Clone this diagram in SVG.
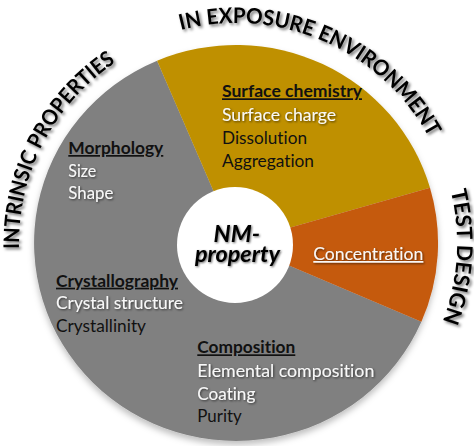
<svg xmlns="http://www.w3.org/2000/svg" width="474" height="446" viewBox="0 0 474 446">
<defs>
  <filter id="arcShadow" x="-10%" y="-10%" width="130%" height="130%">
    <feDropShadow dx="2" dy="2" stdDeviation="1.6" flood-color="#000" flood-opacity="0.55"/>
  </filter>
  <filter id="txtShadow" x="-10%" y="-30%" width="130%" height="160%">
    <feDropShadow dx="1" dy="1" stdDeviation="0.8" flood-color="#000" flood-opacity="0.6"/>
  </filter>
  <filter id="pieShadow" x="-10%" y="-10%" width="120%" height="125%">
    <feDropShadow dx="0" dy="4" stdDeviation="3" flood-color="#000" flood-opacity="0.25"/>
  </filter>
  <path id="arcLeft" d="M19.1,248.7 A217,217 0 0 1 116.2,62.0"/>
  <path id="arcTop" d="M180.9,30.0 A220,220 0 0 1 429.3,138.0"/>
  <path id="arcRight" d="M450.7,190.7 A221,221 0 0 1 442.5,321.8"/>
</defs>
<style>
  text { font-variant-ligatures: none; font-feature-settings: "liga" 0, "clig" 0; }
  .t { font-family: Lato, "Open Sans", sans-serif; font-size: 17px; }
  .h { font-weight: bold; text-decoration: underline; fill: #111; }
  .w { fill: #f8f8f8; filter: url(#txtShadow); }
  .d { fill: #111; }
  .arc { font-family: Lato, "Open Sans", sans-serif; font-weight: bold; font-size: 21.5px; fill: #000; filter: url(#arcShadow); }
  .ctr { font-family: Lato, "Open Sans", sans-serif; font-weight: bold; font-style: italic; font-size: 23px; fill: #000; filter: url(#txtShadow); }
</style>

<g id="pie" filter="url(#pieShadow)">
  <path id="slice-intrinsic" d="M236,243 L421.4,321.7 A202,198 0 1 1 157.1,60.7 Z" fill="#808080"/>
  <path id="slice-exposure" d="M236,243 L157.1,60.7 A202,198 0 0 1 430.0,187.7 Z" fill="#BF9000"/>
  <path id="slice-test" d="M236,243 L430.0,187.7 A202,198 0 0 1 421.4,321.7 Z" fill="#C55A11"/>
</g>

<g id="arc-labels">
  <text class="arc"><textPath href="#arcLeft" textLength="219" lengthAdjust="spacingAndGlyphs">INTRINSIC PROPERTIES</textPath></text>
  <text class="arc"><textPath href="#arcTop" textLength="291" lengthAdjust="spacingAndGlyphs">IN EXPOSURE ENVIRONMENT</textPath></text>
  <text class="arc"><textPath href="#arcRight" textLength="133" lengthAdjust="spacingAndGlyphs">TEST DESIGN</textPath></text>
</g>

<g id="center-node">
  <circle cx="235" cy="245" r="58" fill="#fff"/>
  <text class="ctr" x="213.5" y="241.5" textLength="46.5" lengthAdjust="spacingAndGlyphs">NM-</text>
  <text class="ctr" x="195" y="262" textLength="85" lengthAdjust="spacingAndGlyphs">property</text>
</g>

<g id="surface-chemistry" class="t">
  <text class="h" x="222" y="97.3" textLength="140" lengthAdjust="spacingAndGlyphs">Surface chemistry</text>
  <text class="w" x="222" y="121" textLength="114" lengthAdjust="spacingAndGlyphs">Surface charge</text>
  <text class="d" x="222" y="144" textLength="85" lengthAdjust="spacingAndGlyphs">Dissolution</text>
  <text class="d" x="222" y="166.7" textLength="92" lengthAdjust="spacingAndGlyphs">Aggregation</text>
</g>

<g id="morphology" class="t">
  <text class="h" x="68.3" y="154" textLength="95" lengthAdjust="spacingAndGlyphs">Morphology</text>
  <text class="w" x="68.3" y="176.7" textLength="28" lengthAdjust="spacingAndGlyphs">Size</text>
  <text class="w" x="68.3" y="199.3" textLength="45" lengthAdjust="spacingAndGlyphs">Shape</text>
</g>

<g id="crystallography" class="t">
  <text class="h" x="56" y="286.7" textLength="122" lengthAdjust="spacingAndGlyphs">Crystallography</text>
  <text class="w" x="56" y="309.3" textLength="127" lengthAdjust="spacingAndGlyphs">Crystal structure</text>
  <text class="d" x="56" y="331.7" textLength="90" lengthAdjust="spacingAndGlyphs">Crystallinity</text>
</g>

<g id="composition" class="t">
  <text class="h" x="197.3" y="353.3" textLength="98" lengthAdjust="spacingAndGlyphs">Composition</text>
  <text class="w" x="197.3" y="376.7" textLength="177" lengthAdjust="spacingAndGlyphs">Elemental composition</text>
  <text class="w" x="197.3" y="400" textLength="58" lengthAdjust="spacingAndGlyphs">Coating</text>
  <text class="d" x="197.3" y="421.7" textLength="44.5" lengthAdjust="spacingAndGlyphs">Purity</text>
</g>

<g id="concentration" class="t">
  <text class="w" x="313.3" y="260" textLength="110" lengthAdjust="spacingAndGlyphs" text-decoration="underline">Concentration</text>
</g>
</svg>
